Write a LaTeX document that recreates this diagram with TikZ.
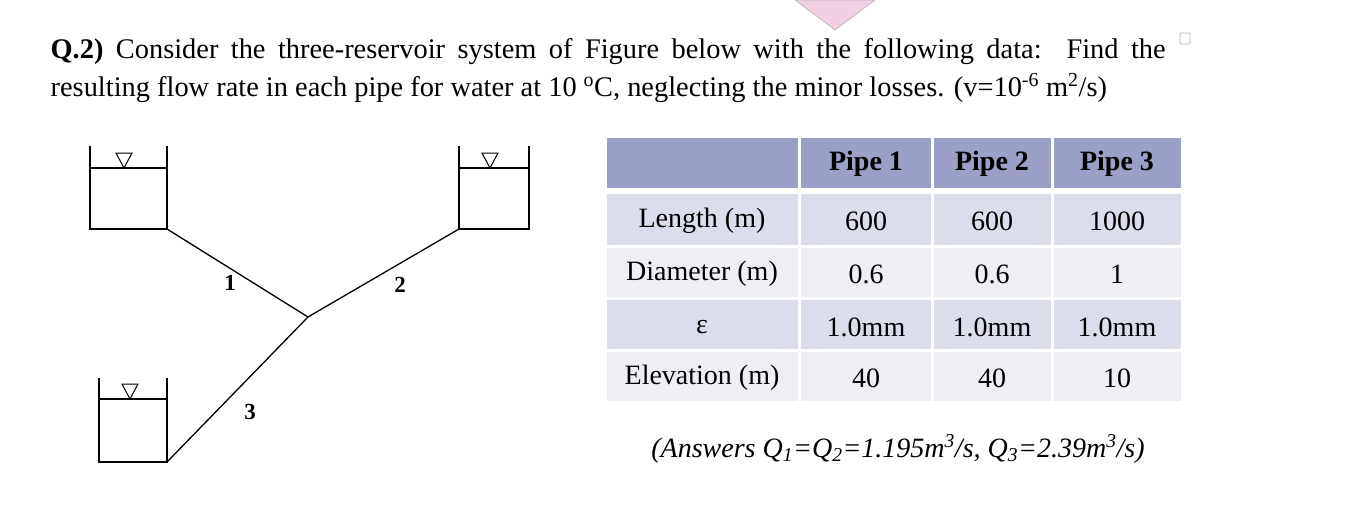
\documentclass[tikz,border=0pt]{standalone}
\usepackage{fontspec}
\setmainfont{Liberation Serif}
\begin{document}
\begin{tikzpicture}[x=1pt,y=-1pt,line width=1.3pt,
  cell/.style={font=\fontsize{28}{30}\selectfont,anchor=center},
  hcell/.style={font=\fontsize{28}{30}\selectfont\bfseries,anchor=center},
  lbl/.style={font=\fontsize{23}{25}\selectfont\bfseries},
  tri/.style={line width=1pt}]
\definecolor{hdrc}{HTML}{9BA0C9}
\definecolor{rowac}{HTML}{DCDDEA}
\definecolor{rowbc}{HTML}{EEEFF5}
\definecolor{pinkc}{HTML}{F2CFE2}
\useasboundingbox (0,0) rectangle (1360,514);
% pink artifact
\fill[pinkc,draw=gray!60,line width=0.6pt] (795,0) -- (835,30) -- (875,0) -- cycle;
\draw[gray!60,line width=0.8pt,rounded corners=1pt] (1180,33) rectangle (1190,44);
% title
\node[anchor=base west,inner sep=0,font=\fontsize{28.4}{30}\selectfont] (t1) at (50,58)
 {\makebox[1115pt][s]{\textbf{Q.2)} Consider the three-reservoir system of Figure below with the following data:\ \ Find the}};
\node[anchor=base west,inner sep=0,font=\fontsize{28.4}{30}\selectfont] (t2) at (50,96)
 {resulting flow rate in each pipe for water at 10 \textsuperscript{o}C, neglecting the minor losses. (v=10\textsuperscript{-6} m\textsuperscript{2}/s)};
% reservoirs
\coordinate (J) at (308,317);
\draw (90,146) -- (90,229) -- (167,229) -- (167,146);
\draw (90,168) -- (167,168);
\draw[tri] (116,153) -- (132,153) -- (124,168) -- cycle;
\draw (459,146) -- (459,229) -- (529,229) -- (529,146);
\draw (459,168) -- (529,168);
\draw[tri] (482,153) -- (498,153) -- (490,168) -- cycle;
\draw (99,378) -- (99,462) -- (167,462) -- (167,378);
\draw (99,399) -- (167,399);
\draw[tri] (122,384) -- (138,384) -- (130,399) -- cycle;
\coordinate (r1) at (167,229);
\coordinate (r2) at (459,229);
\coordinate (r3) at (167,462);
\draw (r1) -- (J) -- (r2);
\draw (J) -- (r3);
\node[lbl] (l1) at (230,283) {1};
\node[lbl] (l2) at (400,285) {2};
\node[lbl] (l3) at (250,412) {3};
% table
\foreach \xa/\xb in {607/798,801/931,934/1051,1054/1181}{
  \fill[hdrc] (\xa,138) rectangle (\xb,188);
  \fill[rowac] (\xa,194) rectangle (\xb,245);
  \fill[rowbc] (\xa,248) rectangle (\xb,297);
  \fill[rowac] (\xa,300) rectangle (\xb,349);
  \fill[rowbc] (\xa,352) rectangle (\xb,401);
}
\node[hcell] (h1) at (866,164) {Pipe 1};
\node[hcell] (h2) at (992,164) {Pipe 2};
\node[hcell] (h3) at (1117,164) {Pipe 3};
\node[cell] (a0) at (702,221) {Length (m)};
\node[cell] (a1) at (866,221) {600};
\node[cell] (a2) at (992,221) {600};
\node[cell] (a3) at (1117,221) {1000};
\node[cell] (b0) at (702,274) {Diameter (m)};
\node[cell] (b1) at (866,274) {0.6};
\node[cell] (b2) at (992,274) {0.6};
\node[cell] (b3) at (1117,274) {1};
\node[cell] (c0) at (702,327) {ε};
\node[cell] (c1) at (866,327) {1.0mm};
\node[cell] (c2) at (992,327) {1.0mm};
\node[cell] (c3) at (1117,327) {1.0mm};
\node[cell] (d0) at (702,378) {Elevation (m)};
\node[cell] (d1) at (866,378) {40};
\node[cell] (d2) at (992,378) {40};
\node[cell] (d3) at (1117,378) {10};
\node[font=\fontsize{28}{30}\selectfont\itshape] (ans) at (898,449)
 {(Answers Q\textsubscript{1}=Q\textsubscript{2}=1.195m\textsuperscript{3}/s, Q\textsubscript{3}=2.39m\textsuperscript{3}/s)};
\end{tikzpicture}
\end{document}
